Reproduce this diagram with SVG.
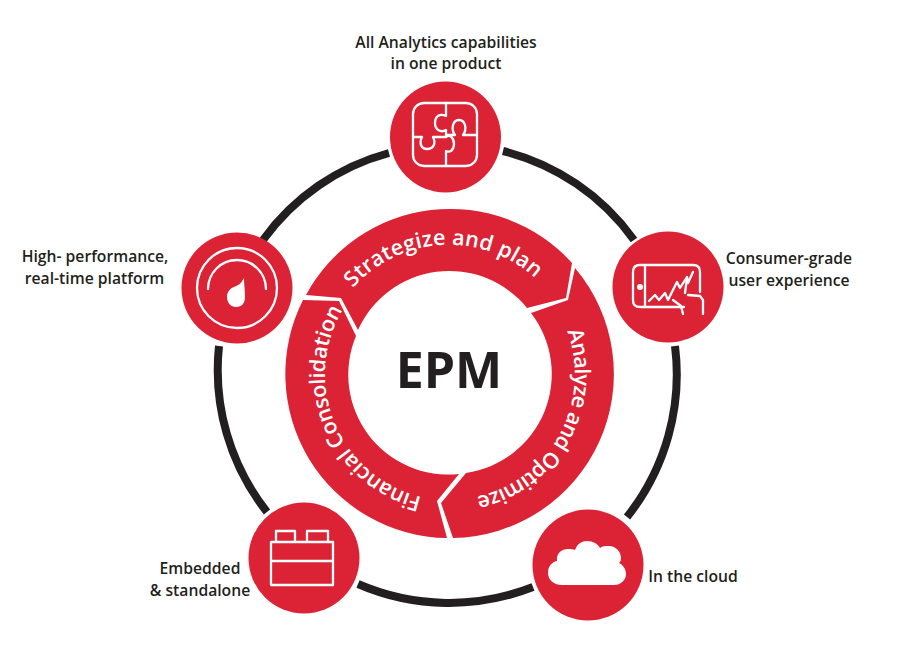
<svg xmlns="http://www.w3.org/2000/svg" width="920" height="648" viewBox="0 0 920 648">
<style>
.bg{fill:#fff}
.seg{fill:#dc2335}
.ring{fill:none;stroke:#231f20;stroke-width:8}
.node{fill:#dc2335}
.ic{fill:none;stroke:#fff;stroke-width:2.300;stroke-linejoin:round;stroke-linecap:round}
.fw{fill:#fff}
text{font-family:"Open Sans","Noto Sans","Liberation Sans",sans-serif}
.lb{font-size:15.700px;font-weight:600;fill:#231f20;text-anchor:middle}
.arc{font-size:21.500px;font-weight:600;fill:#fff}
.epm{font-size:50px;font-weight:700;fill:#231f20;text-anchor:middle}
</style>
<defs>
<path id="p1" d="M353 288A128 128 0 0 1 537 280"/>
<path id="p2" d="M567 331A125 125 0 0 1 475 497"/>
<path id="p3" d="M421.700 497A126 126 0 0 1 342.700 310"/>
</defs>
<rect class="bg" width="920" height="648"/>
<g id="connectors">
<path class="ring" d="M503 151A229 229 0 0 1 634 240"/>
<path class="ring" d="M675 346A229 229 0 0 1 627 517"/>
<path class="ring" d="M533 587A229 229 0 0 1 358 584"/>
<path class="ring" d="M267 512A229 229 0 0 1 219 346"/>
<path class="ring" d="M263 240A229 229 0 0 1 389 153"/>
</g>
<g id="strategize">
<path class="seg" d="M306 295A164 164 0 0 1 572 263L566 298L527 308A100 100 0 0 0 358 330L341 298Z"/>
<text class="arc"><textPath href="#p1" textLength="203">Strategize and plan</textPath></text>
</g>
<g id="analyze">
<path class="seg" d="M575 268A164 164 0 0 1 453 538L441 503L466 473A100 100 0 0 0 531 313L568 300Z"/>
<text class="arc"><textPath href="#p2" textLength="214">Analyze and Optimize</textPath></text>
</g>
<g id="financial">
<path class="seg" d="M447 538A164 164 0 0 1 303 300L339 301L356 336A100 100 0 0 0 459 474L437 501Z"/>
<text class="arc"><textPath href="#p3" textLength="236">Financial Consolidation</textPath></text>
</g>
<g id="center"><text class="epm" x="449" y="388">EPM</text></g>
<g id="node-analytics">
<circle class="node" cx="445.500" cy="137" r="55.500"/>
<rect class="ic" x="413" y="103" width="64" height="63" rx="11"/>
<path class="ic" d="M446 103V116C440 113 435 116 435 123C435 130 441 133 446 130V135H455C451 130 452 120 459 120C466 120 467 130 463 135H476M414 137H422C419 143 421 149 427 149C434 149 436 143 433 137H446C450 134 454 138 454 144C454 150 450 153 446 151V166"/>
<text class="lb" x="446" y="48">All Analytics capabilities</text>
<text class="lb" x="446" y="69">in one product</text>
</g>
<g id="node-experience">
<circle class="node" cx="668" cy="287" r="55.500"/>
<path class="ic" d="M684 307H640Q633 307 633 300V272Q633 265 640 265H693Q700 265 700 272V292M645 265V307"/>
<circle class="fw" cx="640" cy="287" r="3"/>
<path class="ic" d="M649 301L655 295L659 300L665 293L668 300L677 282L680 288L687 277L688 283L693 272"/>
<path class="ic" d="M673 300L681 306L683 314M685 293L687 278M688 295L700 296L703 300V314"/>
<text class="lb" x="789" y="264">Consumer-grade</text>
<text class="lb" x="789" y="286">user experience</text>
</g>
<g id="node-cloud">
<circle class="node" cx="588" cy="565" r="55.500"/>
<path class="fw" d="M562 585C553 585 548 579 548 573C548 566 552 562 557 561C556 553 562 549 568 549C571 549 573 549 575 550C577 544 582 541 587 541C593 541 598 544 600 548C602 546 606 546 609 546C616 546 621 552 621 558C621 561 620 562 619 563C623 565 626 569 626 574C626 580 621 585 614 585Z"/>
<text class="lb" x="693" y="582">In the cloud</text>
</g>
<g id="node-embedded">
<circle class="node" cx="304" cy="558" r="55.500"/>
<path class="ic" d="M271 542H333V585H271ZM271 561H333M276 542V531H295V542M307 542V531H328V542"/>
<text class="lb" x="200" y="574">Embedded</text>
<text class="lb" x="200" y="596">&amp; standalone</text>
</g>
<g id="node-performance">
<circle class="node" cx="237" cy="288" r="55.500"/>
<circle class="ic" cx="237" cy="288" r="40"/>
<path class="ic" d="M208 289A29 29 0 0 1 266 289"/>
<path class="fw" d="M244 278C241 283 241 284 234 287C229 289 227 293 227 297C227 303 231 307 236 307C242 307 245 303 245 297C245 291 244 284 244 278Z"/>
<text class="lb" x="95" y="262">High- performance,</text>
<text class="lb" x="94.500" y="284">real-time platform</text>
</g>
</svg>
